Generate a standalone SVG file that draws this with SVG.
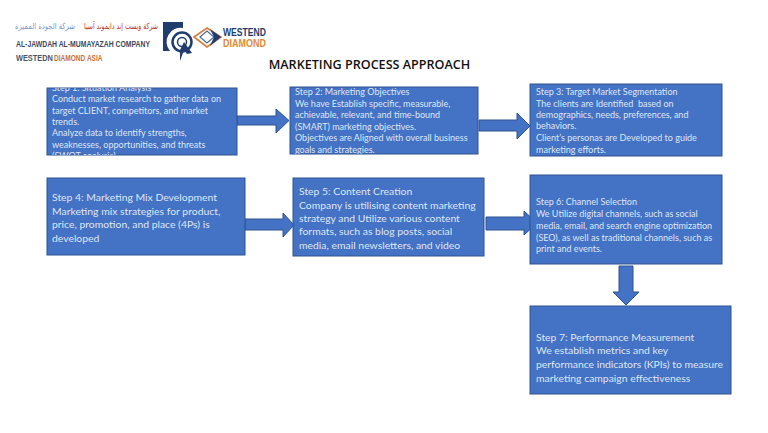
<svg xmlns="http://www.w3.org/2000/svg" width="768" height="433" viewBox="0 0 768 433">
<style>
.box{fill:#4472c4;stroke:#2f528f;stroke-width:1}
.arr{fill:#4472c4;stroke:#2f528f;stroke-width:1}
text{font-family:Lato,"Open Sans","Liberation Sans",sans-serif}
.t{fill:#dfe7f6}
.s{font-size:9px}
.l{font-size:10.4px}
.lg{font-family:"Liberation Sans",Arial,sans-serif;font-weight:700}
</style>
<defs>
<clipPath id="c1"><rect x="47" y="88" width="190" height="67"/></clipPath>
<clipPath id="c2"><rect x="290" y="87" width="188" height="67"/></clipPath>
</defs>
<rect width="768" height="433" fill="#fff"/>
<g id="logo">
<text x="15" y="29" font-size="8.500" fill="#7c97cf" textLength="60" lengthAdjust="spacingAndGlyphs" style="font-family:'DejaVu Sans',sans-serif">شركة الجودة المميزة</text>
<text x="84" y="29" font-size="8.500" fill="#b5352c" textLength="74" lengthAdjust="spacingAndGlyphs" style="font-family:'DejaVu Sans',sans-serif">شركة ويست إند دايموند آسيا</text>
<text class="lg" x="16" y="47" font-size="9" fill="#3b4a5e" textLength="134" lengthAdjust="spacingAndGlyphs">AL-JAWDAH AL-MUMAYAZAH COMPANY</text>
<text class="lg" transform="translate(16 61) scale(.82 1)" font-size="9" fill="#4a5666">WESTEDN</text>
<text class="lg" transform="translate(54 61) scale(.73 1)" font-size="9" fill="#c9713a">DIAMOND ASIA</text>
<path d="M163 22H183V28A14 14 0 0 0 170 51H163Z" fill="#1f3d6e"/>
<circle cx="182" cy="42" r="9.500" fill="none" stroke="#1f3d6e" stroke-width="2.500"/>
<circle cx="182" cy="42" r="4.500" fill="none" stroke="#1f3d6e" stroke-width="1.500"/>
<path d="M180 61L180 50L184 42L192 53L187 54L184 50Z" fill="#1f3d6e"/>
<path d="M194 37L207 28L221 37L207 47Z" fill="#fff" stroke="#d97a3a" stroke-width="1.600"/>
<path d="M200 37L207 31L214 37L207 43Z" fill="#fff" stroke="#4a6a96" stroke-width="1.200"/>
<path d="M210 29L221 37L210 46L214 37Z" fill="#1f3d6e"/>
<text class="lg" x="223" y="36" font-size="10.500" fill="#1f3d6e" textLength="43" lengthAdjust="spacingAndGlyphs">WESTEND</text>
<text class="lg" x="223" y="47" font-size="10.500" fill="#e08a35" textLength="43" lengthAdjust="spacingAndGlyphs">DIAMOND</text>
</g>
<text id="title" x="369.500" y="69" font-size="12.600" fill="#111" text-anchor="middle" style="font-family:'Open Sans',Lato,sans-serif;font-weight:600">MARKETING PROCESS APPROACH</text>
<g id="connectors">
<path class="arr" d="M237 116H276V109L289 120.500L276 133V125H237Z"/>
<path class="arr" d="M479 120H517V113L530 126L517 139V131H479Z"/>
<path class="arr" d="M245 219H283V213L294 225L283 237V230H245Z"/>
<path class="arr" d="M486 217H524V211L537 223L524 235V230H486Z"/>
<path class="arr" d="M619 266H633V292H639L626 305L613 292H619Z"/>
</g>
<g id="step1">
<rect class="box" x="47" y="88" width="190" height="67"/>
<g clip-path="url(#c1)" class="t s">
<text x="52" y="91">Step 1: Situation Analysis</text>
<text x="52" y="102">Conduct market research to gather data on</text>
<text x="52" y="113.500">target CLIENT, competitors, and market</text>
<text x="52" y="125">trends.</text>
<text x="52" y="136">Analyze data to identify strengths,</text>
<text x="52" y="147.500">weaknesses, opportunities, and threats</text>
<text x="52" y="159">(SWOT analysis).</text>
</g>
</g>
<g id="step2">
<rect class="box" x="290" y="87" width="188" height="67"/>
<g clip-path="url(#c2)" class="t s">
<text x="295" y="95">Step 2: Marketing Objectives</text>
<text x="295" y="107">We have Establish specific, measurable,</text>
<text x="295" y="118">achievable, relevant, and time-bound</text>
<text x="295" y="130">(SMART) marketing objectives.</text>
<text x="295" y="141">Objectives are Aligned with overall business</text>
<text x="295" y="153">goals and strategies.</text>
</g>
</g>
<g id="step3">
<rect class="box" x="530" y="84" width="192" height="72"/>
<g class="t s">
<text x="536" y="95">Step 3: Target Market Segmentation</text>
<text x="536" y="106.500" xml:space="preserve">The clients are Identified  based on</text>
<text x="536" y="118">demographics, needs, preferences, and</text>
<text x="536" y="129">behaviors.</text>
<text x="536" y="141">Client’s personas are Developed to guide</text>
<text x="536" y="153">marketing efforts.</text>
</g>
</g>
<g id="step4">
<rect class="box" x="47" y="178" width="198" height="77"/>
<g class="t l">
<text x="52" y="201">Step 4: Marketing Mix Development</text>
<text x="52" y="214.500">Marketing mix strategies for product,</text>
<text x="52" y="228">price, promotion, and place (4Ps) is</text>
<text x="52" y="241.500">developed</text>
</g>
</g>
<g id="step5">
<rect class="box" x="293" y="178" width="191" height="78"/>
<g class="t l">
<text x="299" y="195">Step 5: Content Creation</text>
<text x="299" y="208.500">Company is utilising content marketing</text>
<text x="299" y="221.500">strategy and Utilize various content</text>
<text x="299" y="235">formats, such as blog posts, social</text>
<text x="299" y="248.500">media, email newsletters, and video</text>
</g>
</g>
<g id="step6">
<rect class="box" x="530" y="175" width="192" height="89"/>
<g class="t s">
<text x="536" y="205">Step 6: Channel Selection</text>
<text x="536" y="217">We Utilize digital channels, such as social</text>
<text x="536" y="229">media, email, and search engine optimization</text>
<text x="536" y="241">(SEO), as well as traditional channels, such as</text>
<text x="536" y="252">print and events.</text>
</g>
</g>
<g id="step7">
<rect class="box" x="530" y="306" width="201" height="88"/>
<g class="t l">
<text x="536" y="341">Step 7: Performance Measurement</text>
<text x="536" y="354">We establish metrics and key</text>
<text x="536" y="368">performance indicators (KPIs) to measure</text>
<text x="536" y="382">marketing campaign effectiveness</text>
</g>
</g>
</svg>
